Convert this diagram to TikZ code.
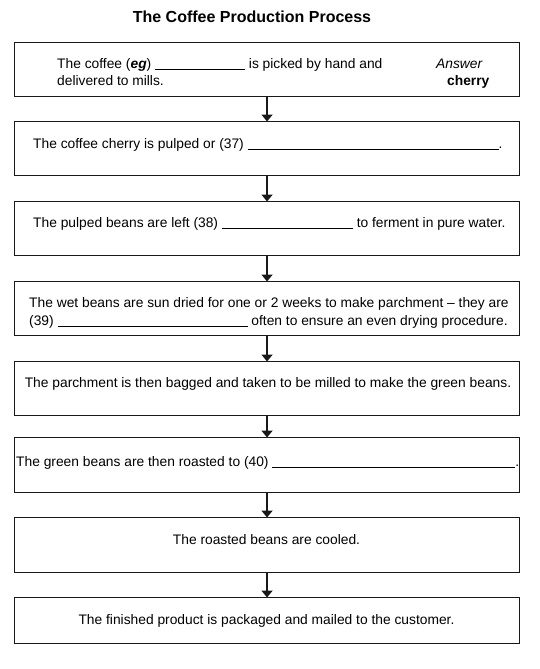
\documentclass[tikz,border=0pt]{standalone}
\usepackage{fontspec}
\setmainfont{Liberation Sans}
\usetikzlibrary{arrows.meta}
\newcommand{\blankline}[1]{\rule[-1.8pt]{#1pt}{0.8pt}}
\begin{document}
\begin{tikzpicture}[x=1pt,y=-1pt,
  box/.style={draw=black!90,line width=1.1pt,minimum width=505pt,anchor=north west,inner sep=0pt},
  txt/.style={inner sep=0pt,font=\fontsize{13.8}{16}\selectfont},
  arr/.style={draw=black!90,line width=2.8pt,-{Triangle[width=11pt,length=7pt]},shorten >=-0.5pt}]
\useasboundingbox (0,0) rectangle (540,669);
\node[inner sep=0pt,anchor=base,font=\bfseries\fontsize{16}{19}\selectfont] (title) at (252,23) {The Coffee Production Process};

\node[box,minimum height=54pt] (b1) at (14,42) {};
\node[box,minimum height=54pt] (b2) at (14,121) {};
\node[box,minimum height=54pt] (b3) at (14,201) {};
\node[box,minimum height=54pt] (b4) at (14,281) {};
\node[box,minimum height=54pt] (b5) at (14,361) {};
\node[box,minimum height=55pt] (b6) at (14,437) {};
\node[box,minimum height=55pt] (b7) at (14,517) {};
\node[box,minimum height=46pt] (b8) at (14,597) {};

\node[txt,anchor=base west] (t1a) at (57,68) {The coffee (\textbf{\textit{eg}}) \blankline{90} is picked by hand and};
\node[txt,anchor=base west] (t1b) at (57,85) {delivered to mills.};
\node[txt,anchor=base west] (ans) at (436,68) {\textit{Answer}};
\node[txt,anchor=base west] (cher) at (447,85) {\textbf{cherry}};

\node[txt,anchor=base west] (t2) at (33,148) {The coffee cherry is pulped or (37) \blankline{251}.};
\node[txt,anchor=base west] (t3) at (33,227) {The pulped beans are left (38) \blankline{131} to ferment in pure water.};
\node[txt,anchor=base west] (t4a) at (29,307) {The wet beans are sun dried for one or 2 weeks to make parchment -- they are};
\node[txt,anchor=base west] (t4b) at (29,325) {(39) \blankline{190} often to ensure an even drying procedure.};
\node[txt,anchor=base] (t5) at (268,387) {The parchment is then bagged and taken to be milled to make the green beans.};
\node[txt,anchor=base west] (t6) at (16,466) {The green beans are then roasted to (40) \blankline{243}.};
\node[txt,anchor=base] (t7) at (266.5,544) {The roasted beans are cooled.};
\node[txt,anchor=base] (t8) at (266.5,624) {The finished product is packaged and mailed to the customer.};

\draw[arr] (b1.south) -- (b2.north);
\draw[arr] (b2.south) -- (b3.north);
\draw[arr] (b3.south) -- (b4.north);
\draw[arr] (b4.south) -- (b5.north);
\draw[arr] (b5.south) -- (b6.north);
\draw[arr] (b6.south) -- (b7.north);
\draw[arr] (b7.south) -- (b8.north);
\end{tikzpicture}
\end{document}
